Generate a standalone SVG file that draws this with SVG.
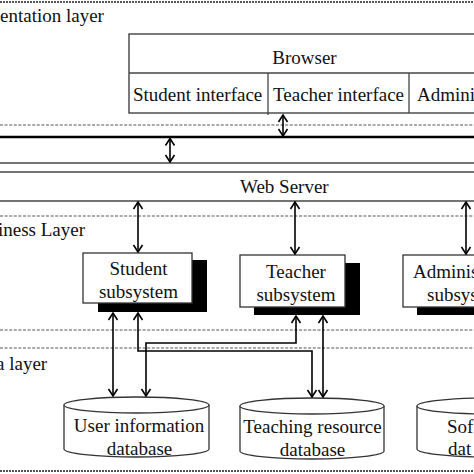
<svg xmlns="http://www.w3.org/2000/svg" width="474" height="474" viewBox="0 0 474 474">
<style>
text{font-family:"Liberation Serif","Times New Roman",serif;font-size:19px;fill:#111}
.c{text-anchor:middle}
.box{fill:#fff;stroke:#333;stroke-width:1.3}
.sh{fill:#000}
.ln{stroke:#444;stroke-width:1.3;fill:none}
.dash{stroke:#555;stroke-width:1.2;stroke-dasharray:3 1.6;fill:none}
.dash2{stroke:#555;stroke-width:2;stroke-dasharray:2 1;fill:none}
.ar{stroke:#000;stroke-width:1.6;fill:none;marker-start:url(#ah);marker-end:url(#ah)}
.db{fill:#fff;stroke:#333;stroke-width:1.3}
</style>
<defs>
<marker id="ah" viewBox="-9 -6 10 12" markerWidth="10" markerHeight="12" refX="0" refY="0" orient="auto-start-reverse" markerUnits="userSpaceOnUse">
<path d="M-7,-4.5 L0,0 L-7,4.5" fill="none" stroke="#000" stroke-width="1.6"/>
</marker>
</defs>
<rect width="474" height="474" fill="#fff"/>

<g id="layers">
<line class="dash2" x1="0" y1="2" x2="474" y2="2"/>
<line class="dash" x1="0" y1="125" x2="474" y2="125"/>
<line x1="0" y1="137" x2="474" y2="137" stroke="#000" stroke-width="2.4"/>
<line class="ln" x1="0" y1="163" x2="474" y2="163"/>
<line class="dash" x1="0" y1="216" x2="474" y2="216"/>
<line class="dash" x1="0" y1="330" x2="474" y2="330"/>
<line class="dash" x1="0" y1="348" x2="474" y2="348"/>
<line class="dash2" x1="0" y1="471" x2="474" y2="471"/>
<text x="0" y="22">entation layer</text>
<text x="-2" y="236">iness Layer</text>
<text x="-4" y="370">a layer</text>
</g>

<g id="browser">
<rect class="box" x="129" y="34" width="400" height="79"/>
<line class="ln" x1="129" y1="73" x2="474" y2="73"/>
<line class="ln" x1="268" y1="73" x2="268" y2="115"/>
<line class="ln" x1="409" y1="73" x2="409" y2="113"/>
<text class="c" x="304.5" y="64">Browser</text>
<text x="133" y="101">Student interface</text>
<text x="273" y="101">Teacher interface</text>
<text x="417" y="101">Adminis</text>
</g>

<g id="webserver">
<line class="ln" x1="0" y1="172" x2="474" y2="172"/>
<line class="ln" x1="0" y1="201" x2="474" y2="201"/>
<text x="240" y="193">Web Server</text>
</g>

<g id="student">
<rect class="sh" x="98" y="260" width="109" height="52"/>
<rect class="box" x="83" y="253" width="109" height="50"/>
<text class="c" x="138.5" y="275">Student</text>
<text class="c" x="138.5" y="298">subsystem</text>
</g>

<g id="teacher">
<rect class="sh" x="254" y="263" width="106" height="52"/>
<rect class="box" x="240" y="255" width="105" height="52"/>
<text class="c" x="296" y="278">Teacher</text>
<text class="c" x="296" y="301">subsystem</text>
</g>

<g id="admin">
<rect class="sh" x="417" y="263" width="106" height="52"/>
<rect class="box" x="403" y="255" width="105" height="52"/>
<text x="413" y="278">Adminis</text>
<text x="427" y="301">subsyst</text>
</g>

<g id="userdb">
<path class="db" d="M64,405 V449 A72.5,8 0 0 0 209,449 V405"/>
<ellipse class="db" cx="136.5" cy="405" rx="72.5" ry="8"/>
<text class="c" x="139" y="432">User information</text>
<text class="c" x="139.5" y="455">database</text>
</g>

<g id="teachdb">
<path class="db" d="M240,406 V451 A72,8 0 0 0 384,451 V406"/>
<ellipse class="db" cx="312" cy="406" rx="72" ry="8"/>
<text class="c" x="312.5" y="433">Teaching resource</text>
<text class="c" x="312.5" y="456">database</text>
</g>

<g id="softdb">
<path class="db" d="M417,406 V449 A72,8 0 0 0 561,449 V406"/>
<ellipse class="db" cx="489" cy="406" rx="72" ry="8"/>
<text x="447" y="433">Sof</text>
<text x="448" y="455">dat</text>
</g>

<g id="connectors">
<line class="ar" x1="283" y1="115" x2="283" y2="136"/>
<line class="ar" x1="170" y1="138.5" x2="170" y2="162"/>
<line class="ar" x1="138" y1="202" x2="138" y2="252"/>
<line class="ar" x1="295" y1="202" x2="295" y2="254"/>
<line class="ar" x1="466" y1="202" x2="466" y2="254"/>
<line class="ar" x1="113" y1="313" x2="113" y2="396"/>
<polyline class="ar" points="138,313 138,351 312,351 312,397"/>
<polyline class="ar" points="296,316 296,343 146,343 146,396"/>
<line class="ar" x1="323" y1="316" x2="323" y2="397"/>
</g>
</svg>
